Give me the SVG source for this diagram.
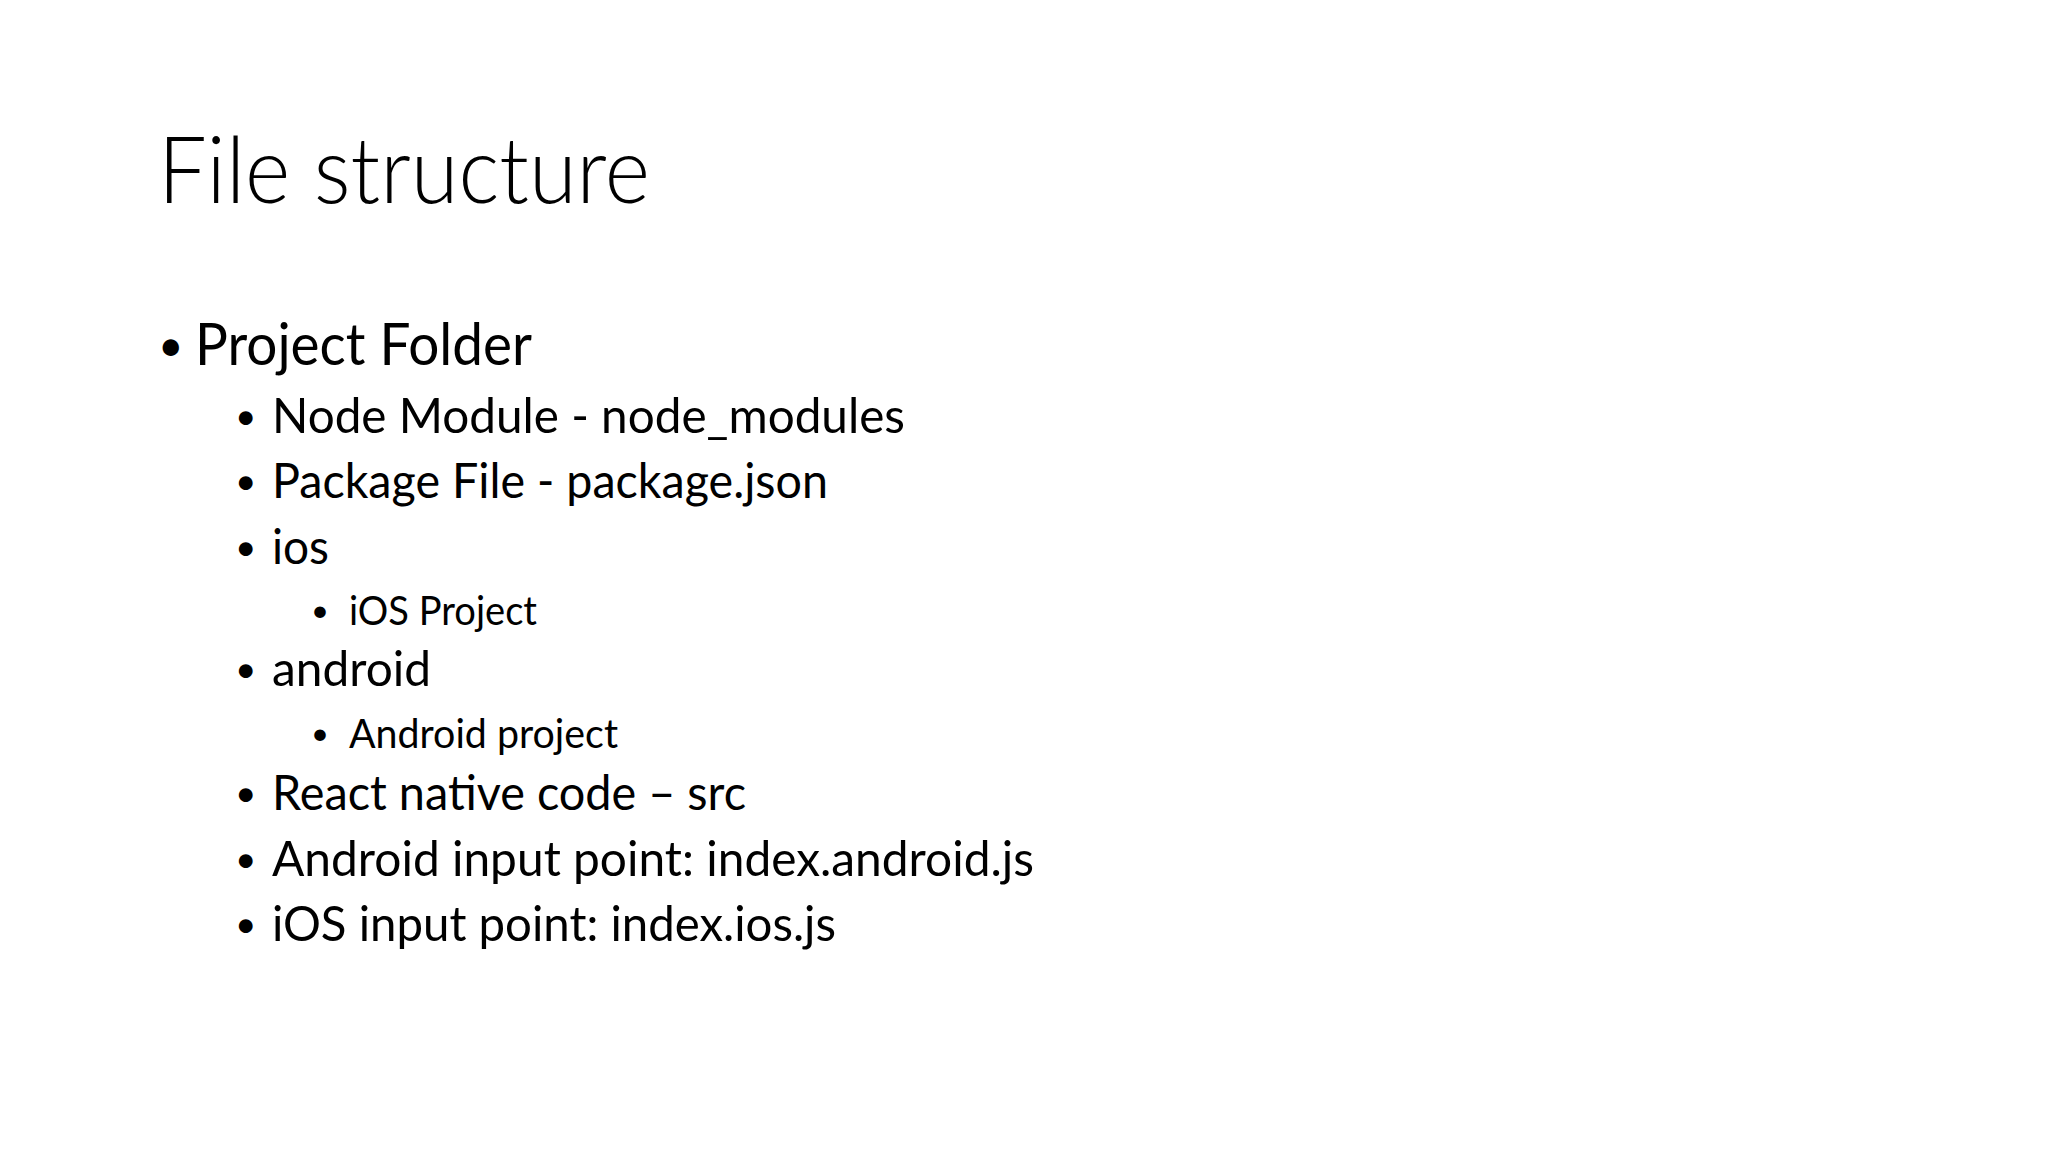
<svg xmlns="http://www.w3.org/2000/svg" width="2048" height="1152" viewBox="0 0 2048 1152">
<style>
text{font-family:Lato,"Open Sans","Liberation Sans",sans-serif;fill:#000}
.t{font-size:92px;font-weight:300}
.l1{font-size:58px}
.l2{font-size:49px}
.l3{font-size:41px}
.b1{font-size:44px}
.b2{font-size:37px}
.b3{font-size:31px}
</style>
<rect width="2048" height="1152" fill="#fff"/>
<g id="title"><text class="t" x="158" y="203" textLength="492" lengthAdjust="spacingAndGlyphs">File structure</text></g>
<g id="bullets">
<text class="b1" x="158" y="361">•</text>
<text class="l1" x="195" y="365" textLength="337" lengthAdjust="spacingAndGlyphs">Project Folder</text>
<text class="b2" x="235" y="429">•</text><text class="l2" x="272" y="433" textLength="633" lengthAdjust="spacingAndGlyphs">Node Module - node_modules</text>
<text class="b2" x="235" y="494">•</text><text class="l2" x="272" y="498" textLength="556" lengthAdjust="spacingAndGlyphs">Package File - package.json</text>
<text class="b2" x="235" y="560">•</text><text class="l2" x="272" y="564" textLength="57" lengthAdjust="spacingAndGlyphs">ios</text>
<text class="b3" x="311" y="621">•</text><text class="l3" x="349" y="625" textLength="188" lengthAdjust="spacingAndGlyphs">iOS Project</text>
<text class="b2" x="235" y="682">•</text><text class="l2" x="272" y="686" textLength="159" lengthAdjust="spacingAndGlyphs">android</text>
<text class="b3" x="311" y="744">•</text><text class="l3" x="349" y="748" textLength="269" lengthAdjust="spacingAndGlyphs">Android project</text>
<text class="b2" x="235" y="806">•</text><text class="l2" x="272" y="810" textLength="474" lengthAdjust="spacingAndGlyphs">React native code – src</text>
<text class="b2" x="235" y="872">•</text><text class="l2" x="272" y="876" textLength="762" lengthAdjust="spacingAndGlyphs">Android input point: index.android.js</text>
<text class="b2" x="235" y="937">•</text><text class="l2" x="272" y="941" textLength="564" lengthAdjust="spacingAndGlyphs">iOS input point: index.ios.js</text>
</g>
</svg>
